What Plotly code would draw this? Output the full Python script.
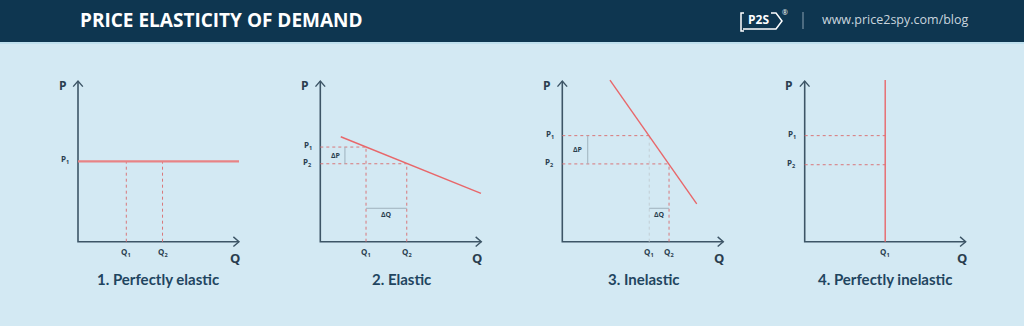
import plotly.graph_objects as go

W, H = 1024, 326

# ---------------- data ----------------
titles = ["1. Perfectly elastic", "2. Elastic", "3. Inelastic", "4. Perfectly inelastic"]
header_title = "PRICE ELASTICITY OF DEMAND"
header_url = "www.price2spy.com/blog"

# panel 1: perfectly elastic
p1_price = 5.0
p1_q = [3.0, 5.25]
# panel 2: elastic
p2_curve_q = [1.27, 9.98]
p2_curve_p = [6.53, 3.01]
p2_q = [2.84, 5.37]
p2_p = [5.89, 4.85]
# panel 3: inelastic
p3_curve_q = [2.96, 8.35]
p3_curve_p = [10.06, 2.35]
p3_q = [5.4, 6.63]
p3_p = [6.6, 4.84]
# panel 4: perfectly inelastic
p4_q = 5.0
p4_top = 10.06
p4_p = [6.6, 4.79]
# delta marker positions
p2_dp_q, p3_dp_q = 1.53, 1.58
dq_p = 2.08

# ---------------- styling / layout ----------------
BG = "#d3e9f3"
NAVY = "#0e3650"
AXIS = "#3d5566"
RED = "#e8676a"
DOT = "#d9777a"
GREY = "#9fb2bd"
TXT = "#2a3e4f"

origins_px = [78.0, 320.3, 562.3, 804.7]
oy_px = 241.7
sx, sy = 16.1, 16.07
XR = [-1.0, 11.0]
YR = [-1.5, 11.0]

fig = go.Figure()


def ax_names(i):
    return ("x" if i == 0 else f"x{i+1}"), ("y" if i == 0 else f"y{i+1}")


for i, ox in enumerate(origins_px):
    xd = [(ox + XR[0] * sx) / W, (ox + XR[1] * sx) / W]
    yd = [1 - (oy_px - YR[0] * sy) / H, 1 - (oy_px - YR[1] * sy) / H]
    xa, ya = ax_names(i)
    xkey = "xaxis" if i == 0 else f"xaxis{i+1}"
    ykey = "yaxis" if i == 0 else f"yaxis{i+1}"
    fig.update_layout(**{
        xkey: dict(domain=xd, range=XR, visible=False, fixedrange=True, anchor=ya),
        ykey: dict(domain=yd, range=YR, visible=False, fixedrange=True, anchor=xa),
    })


def line(i, xs, ys, color, width=1.0, dash=None):
    xa, ya = ax_names(i)
    fig.add_trace(go.Scatter(x=xs, y=ys, mode="lines", xaxis=xa, yaxis=ya,
                             line=dict(color=color, width=width, dash=dash),
                             hoverinfo="skip", showlegend=False))


def text(i, x, y, s, size=8, xanchor="center", yanchor="middle", color=TXT, bold=True):
    xa, ya = ax_names(i)
    fig.add_annotation(x=x, y=y, xref=xa, yref=ya, text=(f"<b>{s}</b>" if bold else s),
                       showarrow=False, xanchor=xanchor, yanchor=yanchor,
                       font=dict(size=size, color=color, family="Open Sans"))


def axes(i):
    # axis lines
    line(i, [0, 0, 10], [10, 0, 0], AXIS, 1.6)
    # chevrons
    line(i, [-0.3, 0, 0.3], [9.65, 10, 9.65], AXIS, 1.4)
    line(i, [9.65, 10, 9.65], [0.3, 0, -0.3], AXIS, 1.4)
    text(i, -0.95, 9.7, "P", size=12)
    text(i, 9.75, -1.0, "Q", size=13)


def sub(base, n):
    return f"{base}<sub>{n}</sub>"


# panel 1
axes(0)
for q in p1_q:
    line(0, [q, q], [0, p1_price], DOT, 1, "dot")
line(0, [0, 10], [p1_price, p1_price], "#e88385", 2.4)
text(0, -0.45, p1_price + 0.1, sub("P", 1), xanchor="right")
for k, q in enumerate(p1_q):
    text(0, q, -0.7, sub("Q", k + 1))

# panel 2
axes(1)
line(1, [0, p2_q[0]], [p2_p[0], p2_p[0]], DOT, 1, "dot")
line(1, [0, p2_q[1]], [p2_p[1], p2_p[1]], DOT, 1, "dot")
line(1, [p2_q[0], p2_q[0]], [0, p2_p[0]], DOT, 1, "dot")
line(1, [p2_q[1], p2_q[1]], [0, p2_p[1]], DOT, 1, "dot")
line(1, [p2_dp_q, p2_dp_q], p2_p, GREY, 1)
line(1, p2_q, [dq_p, dq_p], GREY, 1)
line(1, p2_curve_q, p2_curve_p, RED, 1.4)
for k, p in enumerate(p2_p):
    text(1, -0.4, p + 0.1, sub("P", k + 1), xanchor="right")
for k, q in enumerate(p2_q):
    text(1, q, -0.7, sub("Q", k + 1))
text(1, p2_dp_q - 0.15, sum(p2_p) / 2, "ΔP", size=7, xanchor="right")
text(1, sum(p2_q) / 2, dq_p - 0.4, "ΔQ", size=7)

# panel 3
axes(2)
line(2, [0, p3_q[0]], [p3_p[0], p3_p[0]], DOT, 1, "dot")
line(2, [0, p3_q[1]], [p3_p[1], p3_p[1]], DOT, 1, "dot")
line(2, [p3_q[0], p3_q[0]], [0, p3_p[0]], "#c3cfd6", 1, "dot")
line(2, [p3_q[1], p3_q[1]], [0, p3_p[1]], DOT, 1, "dot")
line(2, [p3_dp_q, p3_dp_q], p3_p, GREY, 1)
line(2, p3_q, [dq_p, dq_p], GREY, 1)
line(2, p3_curve_q, p3_curve_p, RED, 1.4)
for k, p in enumerate(p3_p):
    text(2, -0.4, p + 0.1, sub("P", k + 1), xanchor="right")
for k, q in enumerate(p3_q):
    text(2, q, -0.7, sub("Q", k + 1))
text(2, p3_dp_q - 0.15, sum(p3_p) / 2, "ΔP", size=7, xanchor="right")
text(2, sum(p3_q) / 2, dq_p - 0.4, "ΔQ", size=7)

# panel 4
axes(3)
for p in p4_p:
    line(3, [0, p4_q], [p, p], DOT, 1, "dot")
line(3, [p4_q, p4_q], [0, p4_top], RED, 1.4)
for k, p in enumerate(p4_p):
    text(3, -0.4, p + 0.1, sub("P", k + 1), xanchor="right")
text(3, p4_q, -0.7, sub("Q", 1))

# panel titles
title_x_px = [158, 401, 644, 885]
for t, xp in zip(titles, title_x_px):
    fig.add_annotation(x=xp / W, y=1 - 279 / H, xref="paper", yref="paper", text=f"<b>{t}</b>",
                       showarrow=False, xanchor="center", yanchor="middle",
                       font=dict(size=15, color="#1f4560", family="Lato"))

# header
shapes = [
    dict(type="rect", xref="paper", yref="paper", x0=0, x1=1, y0=1 - 42 / H, y1=1,
         fillcolor=NAVY, line=dict(width=0), layer="below"),
    dict(type="rect", xref="paper", yref="paper", x0=0, x1=1, y0=1 - 44 / H, y1=1 - 42 / H,
         fillcolor="#bfe0ee", line=dict(width=0), layer="below"),
    dict(type="line", xref="paper", yref="paper", x0=803 / W, x1=803 / W, y0=1 - 29 / H, y1=1 - 12 / H,
         line=dict(color="#8aa0b0", width=1)),
    # P2S logo outline
    dict(type="path", xref="paper", yref="paper",
         path=" ".join([
             f"M {744/W} {1-13/H}", f"L {741/W} {1-13/H}", f"L {741/W} {1-31/H}", f"L {744/W} {1-31/H}",
             f"M {771/W} {1-13/H}", f"L {776/W} {1-13/H}", f"L {782/W} {1-21/H}", f"L {776/W} {1-29/H}",
             f"L {743/W} {1-29/H}",
         ]),
         line=dict(color="white", width=1.5)),
]
fig.update_layout(shapes=shapes)
fig.add_annotation(x=78 / W, y=1 - 20 / H, xref="paper", yref="paper", text=f"<b>{header_title}</b>",
                   showarrow=False, xanchor="left", yanchor="middle",
                   font=dict(size=19, color="white", family="Open Sans"))
fig.add_annotation(x=758 / W, y=1 - 20 / H, xref="paper", yref="paper", text="<b>P2S</b>",
                   showarrow=False, xanchor="center", yanchor="middle",
                   font=dict(size=12, color="white", family="Open Sans"))
fig.add_annotation(x=785 / W, y=1 - 12 / H, xref="paper", yref="paper", text="®",
                   showarrow=False, xanchor="center", yanchor="middle",
                   font=dict(size=7, color="white", family="Open Sans"))
fig.add_annotation(x=820 / W, y=1 - 20 / H, xref="paper", yref="paper", text=header_url,
                   showarrow=False, xanchor="left", yanchor="middle",
                   font=dict(size=12.5, color="#c9d5de", family="Open Sans"))

fig.update_layout(width=W, height=H, margin=dict(l=0, r=0, t=0, b=0, pad=0),
                  paper_bgcolor=BG, plot_bgcolor="rgba(0,0,0,0)", showlegend=False)

fig.write_html("out.html", config={"displayModeBar": False})
